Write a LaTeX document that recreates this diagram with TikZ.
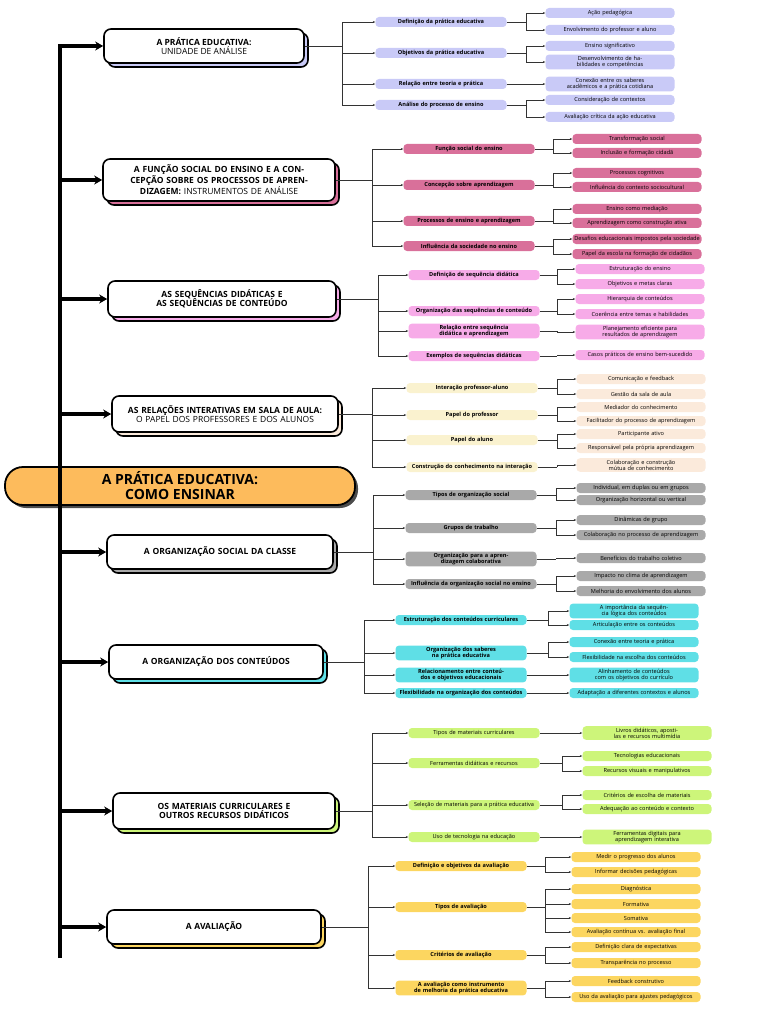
\documentclass[tikz,border=0pt]{standalone}
\usepackage{fontspec}
\setmainfont{Open Sans}
\usetikzlibrary{shadows,arrows.meta}
\definecolor{cA}{HTML}{C9CAF7}
\definecolor{cB}{HTML}{D9709A}
\definecolor{cC}{HTML}{F7ABE8}
\definecolor{cD}{HTML}{FBEADB}
\definecolor{cDs}{HTML}{FAF2CF}
\definecolor{cE}{HTML}{A9A9A9}
\definecolor{cF}{HTML}{5FDFE6}
\definecolor{cG}{HTML}{CDF57A}
\definecolor{cH}{HTML}{FCD660}
\definecolor{cR}{HTML}{FDBB5C}
\tikzset{
 mainbox/.style={draw, line width=1.6pt, rounded corners=7pt, fill=white, align=center,
   font=\fontsize{8.5}{9.5}\selectfont, inner sep=2pt,
   general shadow={shadow xshift=4pt, shadow yshift=-4pt, fill=#1, draw=black, line width=1.6pt}},
 subbox/.style={fill=#1, rounded corners=3.5pt, align=center, font=\fontsize{5.6}{6.2}\selectfont\bfseries,
   text width=128pt, inner sep=1.5pt, minimum height=10pt},
 subn/.style={subbox=#1, font=\fontsize{5.6}{6.2}\selectfont},
 leaf/.style={fill=#1, rounded corners=3.5pt, align=center, font=\fontsize{5.6}{6.2}\selectfont,
   text width=126pt, inner sep=1.5pt, minimum height=10pt},
 conn/.style={draw=black!80, line width=0.6pt, -{Stealth[length=2.5pt,width=2pt]}},
 trunk/.style={line width=3.5pt, -{Stealth[length=8pt,width=9pt]}}
}
\newcommand\fanout[3]{%
  \draw[line width=0.6pt, draw=black!80] (#1.east) -- (#2,0 |- #1.east);
  \foreach \l in {#3} {\draw[conn] (#2,0 |- #1.east) |- (\l.west);}}
\begin{document}
\begin{tikzpicture}[x=1pt,y=-1pt]
\useasboundingbox (0,0) rectangle (768,1024);
% root
\node[draw, line width=1.8pt, fill=cR, rounded corners=18pt, minimum width=350pt, minimum height=38pt,
  align=center, font=\fontsize{14}{15}\selectfont\bfseries,
  general shadow={shadow xshift=3pt, shadow yshift=-3pt, fill=black!70}] (root) at (180,486)
  {A PRÁTICA EDUCATIVA:\\COMO ENSINAR};
% main nodes
\node[mainbox=cA, minimum width=200pt, minimum height=34pt] (m1) at (204,46) {\textbf{A PRÁTICA EDUCATIVA:}\\UNIDADE DE ANÁLISE};
\node[mainbox=cB, minimum width=232pt, minimum height=42pt, text width=220pt] (m2) at (219,180) {\textbf{A FUNÇÃO SOCIAL DO ENSINO E A CONCEPÇÃO SOBRE OS PROCESSOS DE APRENDIZAGEM:} INSTRUMENTOS DE ANÁLISE};
\node[mainbox=cC, minimum width=228pt, minimum height=36pt, text width=200pt] (m3) at (222,299) {\textbf{AS SEQUÊNCIAS DIDÁTICAS E AS SEQUÊNCIAS DE CONTEÚDO}};
\node[mainbox=cD, minimum width=226pt, minimum height=36pt, text width=200pt] (m4) at (225,414) {\textbf{AS RELAÇÕES INTERATIVAS EM SALA DE AULA:} O PAPEL DOS PROFESSORES E DOS ALUNOS};
\node[mainbox=cE, minimum width=226pt, minimum height=34pt, text width=200pt] (m5) at (220,552) {\textbf{A ORGANIZAÇÃO SOCIAL DA CLASSE}};
\node[mainbox=cF, minimum width=214pt, minimum height=34pt, text width=200pt] (m6) at (216,662) {\textbf{A ORGANIZAÇÃO DOS CONTEÚDOS}};
\node[mainbox=cG, minimum width=222pt, minimum height=36pt, text width=200pt] (m7) at (224,811) {\textbf{OS MATERIAIS CURRICULARES E OUTROS RECURSOS DIDÁTICOS}};
\node[mainbox=cH, minimum width=214pt, minimum height=34pt, text width=200pt] (m8) at (214,927) {\textbf{A AVALIAÇÃO}};
% trunk
\coordinate (bot) at (60,958);
\draw[trunk] (bot) |- (m1.west);
\foreach \m in {m2,m3,m4,m5,m6,m7,m8} {\draw[trunk] (bot |- \m.west) -- (\m.west);}
% group 1
\node[subbox=cA] (s11) at (441,22) {Definição da prática educativa};
\node[subbox=cA] (s12) at (441,53) {Objetivos da prática educativa};
\node[subbox=cA] (s13) at (441,84) {Relação entre teoria e prática};
\node[subbox=cA] (s14) at (441,105) {Análise do processo de ensino};
\node[leaf=cA] (l111) at (610,13) {Ação pedagógica};
\node[leaf=cA] (l112) at (610,30) {Envolvimento do professor e aluno};
\node[leaf=cA] (l121) at (610,46) {Ensino significativo};
\node[leaf=cA] (l122) at (610,62) {Desenvolvimento de habilidades e competências};
\node[leaf=cA] (l131) at (610,84) {Conexão entre os saberes acadêmicos e a prática cotidiana};
\node[leaf=cA] (l141) at (610,100) {Consideração de contextos};
\node[leaf=cA] (l142) at (610,117) {Avaliação crítica da ação educativa};
\fanout{m1}{342}{s11,s12,s13,s14}
\fanout{s11}{526}{l111,l112}
\fanout{s12}{526}{l121,l122}
\fanout{s13}{526}{l131}
\fanout{s14}{526}{l141,l142}
% group 2
\node[subbox=cB] (s21) at (469,149) {Função social do ensino};
\node[subbox=cB] (s22) at (469,185) {Concepção sobre aprendizagem};
\node[subbox=cB] (s23) at (469,221) {Processos de ensino e aprendizagem};
\node[subbox=cB] (s24) at (469,246) {Influência da sociedade no ensino};
\node[leaf=cB] (l211) at (637,139) {Transformação social};
\node[leaf=cB] (l212) at (637,153) {Inclusão e formação cidadã};
\node[leaf=cB] (l221) at (637,173) {Processos cognitivos};
\node[leaf=cB] (l222) at (637,187) {Influência do contexto sociocultural};
\node[leaf=cB] (l231) at (637,209) {Ensino como mediação};
\node[leaf=cB] (l232) at (637,223) {Aprendizagem como construção ativa};
\node[leaf=cB] (l241) at (637,239) {Desafios educacionais impostos pela sociedade};
\node[leaf=cB] (l242) at (637,254) {Papel da escola na formação de cidadãos};
\fanout{m2}{372}{s21,s22,s23,s24}
\fanout{s21}{553}{l211,l212}
\fanout{s22}{553}{l221,l222}
\fanout{s23}{553}{l231,l232}
\fanout{s24}{553}{l241,l242}
% group 3
\node[subbox=cC] (s31) at (474,275) {Definição de sequência didática};
\node[subbox=cC] (s32) at (474,311) {Organização das sequências de conteúdo};
\node[subbox=cC] (s33) at (474,331) {Relação entre sequência didática e aprendizagem};
\node[subbox=cC] (s34) at (474,356) {Exemplos de sequências didáticas};
\node[leaf=cC] (l311) at (640,269) {Estruturação do ensino};
\node[leaf=cC] (l312) at (640,284) {Objetivos e metas claras};
\node[leaf=cC] (l321) at (640,299) {Hierarquia de conteúdos};
\node[leaf=cC] (l322) at (640,314) {Coerência entre temas e habilidades};
\node[leaf=cC] (l331) at (640,332) {Planejamento eficiente para resultados de aprendizagem};
\node[leaf=cC] (l341) at (640,355) {Casos práticos de ensino bem-sucedido};
\fanout{m3}{378}{s31,s32,s33,s34}
\fanout{s31}{557}{l311,l312}
\fanout{s32}{557}{l321,l322}
\fanout{s33}{557}{l331}
\fanout{s34}{557}{l341}
% group 4
\node[subbox=cDs] (s41) at (472,388) {Interação professor-aluno};
\node[subbox=cDs] (s42) at (472,415) {Papel do professor};
\node[subbox=cDs] (s43) at (472,440) {Papel do aluno};
\node[subbox=cDs] (s44) at (472,467) {Construção do conhecimento na interação};
\node[leaf=cD] (l411) at (641,379) {Comunicação e feedback};
\node[leaf=cD] (l412) at (641,394) {Gestão da sala de aula};
\node[leaf=cD] (l421) at (641,407) {Mediador do conhecimento};
\node[leaf=cD] (l422) at (641,421) {Facilitador do processo de aprendizagem};
\node[leaf=cD] (l431) at (641,434) {Participante ativo};
\node[leaf=cD] (l432) at (641,448) {Responsável pela própria aprendizagem};
\node[leaf=cD] (l441) at (641,465) {Colaboração e construção mútua de conhecimento};
\fanout{m4}{372}{s41,s42,s43,s44}
\fanout{s41}{557}{l411,l412}
\fanout{s42}{557}{l421,l422}
\fanout{s43}{557}{l431,l432}
\fanout{s44}{557}{l441}
% group 5
\node[subbox=cE] (s51) at (471,495) {Tipos de organização social};
\node[subbox=cE] (s52) at (471,528) {Grupos de trabalho};
\node[subbox=cE] (s53) at (471,559) {Organização para a aprendizagem colaborativa};
\node[subbox=cE] (s54) at (471,584) {Influência da organização social no ensino};
\node[leaf=cE] (l511) at (641,488) {Individual, em duplas ou em grupos};
\node[leaf=cE] (l512) at (641,500) {Organização horizontal ou vertical};
\node[leaf=cE] (l521) at (641,520) {Dinâmicas de grupo};
\node[leaf=cE] (l522) at (641,535) {Colaboração no processo de aprendizagem};
\node[leaf=cE] (l531) at (641,558) {Benefícios do trabalho coletivo};
\node[leaf=cE] (l541) at (641,576) {Impacto no clima de aprendizagem};
\node[leaf=cE] (l542) at (641,591) {Melhoria do envolvimento dos alunos};
\fanout{m5}{373}{s51,s52,s53,s54}
\fanout{s51}{556}{l511,l512}
\fanout{s52}{556}{l521,l522}
\fanout{s53}{556}{l531}
\fanout{s54}{556}{l541,l542}
% group 6
\node[subbox=cF] (s61) at (461,620) {Estruturação dos conteúdos curriculares};
\node[subbox=cF] (s62) at (461,653) {Organização dos saberes na prática educativa};
\node[subbox=cF] (s63) at (461,675) {Relacionamento entre conteúdos e objetivos educacionais};
\node[subbox=cF] (s64) at (461,693) {Flexibilidade na organização dos conteúdos};
\node[leaf=cF] (l611) at (634,611) {A importância da sequência lógica dos conteúdos};
\node[leaf=cF] (l612) at (634,625) {Articulação entre os conteúdos};
\node[leaf=cF] (l621) at (634,642) {Conexão entre teoria e prática};
\node[leaf=cF] (l622) at (634,657) {Flexibilidade na escolha dos conteúdos};
\node[leaf=cF] (l631) at (634,675) {Alinhamento de conteúdos com os objetivos do currículo};
\node[leaf=cF] (l641) at (634,693) {Adaptação a diferentes contextos e alunos};
\fanout{m6}{364}{s61,s62,s63,s64}
\fanout{s61}{548}{l611,l612}
\fanout{s62}{548}{l621,l622}
\fanout{s63}{548}{l631}
\fanout{s64}{548}{l641}
% group 7
\node[subn=cG] (s71) at (474,733) {Tipos de materiais curriculares};
\node[subn=cG] (s72) at (474,763) {Ferramentas didáticas e recursos};
\node[subn=cG] (s73) at (474,805) {Seleção de materiais para a prática educativa};
\node[subn=cG] (s74) at (474,837) {Uso de tecnologia na educação};
\node[leaf=cG] (l711) at (647,733) {Livros didáticos, apostilas e recursos multimídia};
\node[leaf=cG] (l721) at (647,756) {Tecnologias educacionais};
\node[leaf=cG] (l722) at (647,771) {Recursos visuais e manipulativos};
\node[leaf=cG] (l731) at (647,795) {Critérios de escolha de materiais};
\node[leaf=cG] (l732) at (647,809) {Adequação ao conteúdo e contexto};
\node[leaf=cG] (l741) at (647,837) {Ferramentas digitais para aprendizagem interativa};
\fanout{m7}{372}{s71,s72,s73,s74}
\fanout{s71}{562}{l711}
\fanout{s72}{562}{l721,l722}
\fanout{s73}{562}{l731,l732}
\fanout{s74}{562}{l741}
% group 8
\node[subbox=cH] (s81) at (461,866) {Definição e objetivos da avaliação};
\node[subbox=cH] (s82) at (461,907) {Tipos de avaliação};
\node[subbox=cH] (s83) at (461,955) {Critérios de avaliação};
\node[subbox=cH] (s84) at (461,988) {A avaliação como instrumento de melhoria da prática educativa};
\node[leaf=cH] (l811) at (636,857) {Medir o progresso dos alunos};
\node[leaf=cH] (l812) at (636,872) {Informar decisões pedagógicas};
\node[leaf=cH] (l821) at (636,889) {Diagnóstica};
\node[leaf=cH] (l822) at (636,904) {Formativa};
\node[leaf=cH] (l823) at (636,918) {Somativa};
\node[leaf=cH] (l824) at (636,932) {Avaliação contínua vs. avaliação final};
\node[leaf=cH] (l831) at (636,947) {Definição clara de expectativas};
\node[leaf=cH] (l832) at (636,963) {Transparência no processo};
\node[leaf=cH] (l841) at (636,981) {Feedback construtivo};
\node[leaf=cH] (l842) at (636,997) {Uso da avaliação para ajustes pedagógicos};
\fanout{m8}{368}{s81,s82,s83,s84}
\fanout{s81}{545}{l811,l812}
\fanout{s82}{545}{l821,l822,l823,l824}
\fanout{s83}{545}{l831,l832}
\fanout{s84}{545}{l841,l842}
\end{tikzpicture}
\end{document}
